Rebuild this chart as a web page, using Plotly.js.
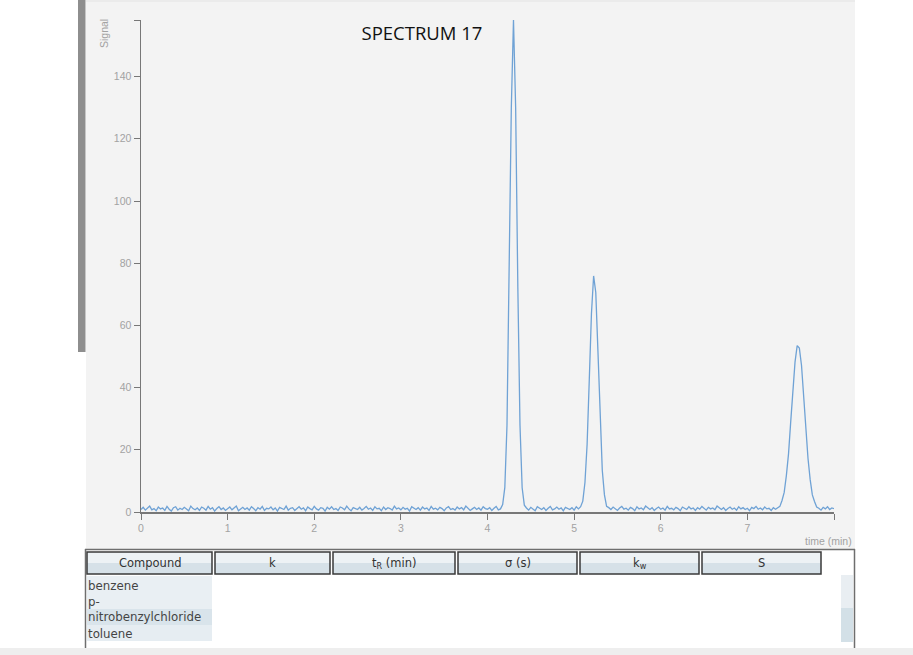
<!DOCTYPE html>
<html>
<head>
<meta charset="utf-8">
<script src="https://cdn.plot.ly/plotly-3.0.1.min.js"></script>
<style>
  html, body { margin: 0; padding: 0; background: #ffffff; }
  #chart { width: 913px; height: 655px; }
</style>
</head>
<body>
<div id="chart"></div>
<script>
// ---------- data ----------
const chartTitle = 'SPECTRUM 17';
const xTitle = 'time (min)';
const yTitle = 'Signal';
const timeStart = 0;      // min
const timeStep = 0.025;   // min per sample
const xTickVals = [0, 1, 2, 3, 4, 5, 6, 7, 8];
const xTickText = ['0', '1', '2', '3', '4', '5', '6', '7', ''];
const yTickVals = [0, 20, 40, 60, 80, 100, 120, 140];
const yTickText = ['0', '20', '40', '60', '80', '100', '120', '140'];
const signal = [
  // 0 - 167 baseline
  0.8,1.5,0.6,1.2,1.9,0.7,1.1,0.4,1.6,1.0,
  1.3,0.5,1.8,0.9,0.3,1.4,1.7,0.6,1.2,0.8,
  1.5,1.0,0.4,1.9,1.1,0.7,1.3,0.5,1.6,1.2,
  0.6,1.8,0.9,1.4,0.3,1.1,1.7,0.8,1.3,0.5,
  1.0,1.6,0.7,1.2,1.9,0.4,1.0,1.5,0.8,1.3,
  0.6,1.7,1.1,0.4,1.4,0.9,1.8,0.5,1.2,1.0,
  1.6,0.7,1.3,0.3,1.5,1.1,0.8,1.9,0.6,1.2,
  1.4,0.5,1.0,1.7,0.9,1.3,0.4,1.6,1.1,0.7,
  1.8,1.0,0.6,1.4,1.2,0.3,1.5,0.9,1.7,0.8,
  1.1,0.5,1.6,1.3,0.7,1.9,1.0,0.4,1.4,1.2,
  0.8,1.5,0.6,1.1,1.8,0.9,1.3,0.5,1.7,1.0,
  1.2,0.4,1.6,0.8,1.4,1.1,0.6,1.9,1.0,1.3,
  0.7,1.5,0.9,1.2,0.3,1.7,1.1,0.8,1.4,0.6,
  1.6,1.0,1.3,0.5,1.8,0.9,1.2,0.7,1.5,1.1,
  0.4,1.3,1.7,0.8,1.1,0.6,1.6,1.0,1.4,0.7,
  1.9,1.2,0.5,1.0,1.5,0.8,1.3,0.6,1.7,1.1,
  0.9,1.4,0.5,1.2,1.8,0.7,1.0,2.4,
  // 168 - 177 peak 1
  7.9,27.9,73.0,130.1,158.2,130.0,72.6,28.0,7.8,2.2,
  // 178 - 202 baseline
  1.3,0.6,1.5,1.0,0.4,1.7,1.1,0.8,1.4,0.5,
  1.2,1.8,0.7,1.0,1.6,0.9,1.3,0.4,1.5,1.1,
  0.8,1.4,0.6,1.7,1.0,
  // 203 - 215 peak 2
  1.7,3.5,9.5,21.8,42.5,63.8,75.9,70.6,51.6,29.1,13.4,5.5,1.8,
  // 216 - 293 baseline
  1.4,0.8,1.6,1.0,0.5,1.3,1.8,0.9,1.2,0.6,
  1.5,1.1,0.4,1.7,1.0,1.3,0.7,1.9,1.2,0.8,
  1.4,0.5,1.1,1.6,0.9,1.3,0.6,1.8,1.0,1.2,
  0.7,1.5,1.1,0.4,1.6,1.2,0.8,1.7,1.0,1.3,
  0.5,1.4,0.9,1.8,1.1,0.6,1.5,1.0,1.3,0.7,
  1.9,1.2,0.8,1.4,0.5,1.1,1.6,0.9,1.3,0.6,
  1.7,1.0,1.4,0.8,1.2,0.4,1.5,1.1,1.8,0.9,
  1.3,0.7,1.6,1.0,1.2,0.5,1.4,0.9,
  // 294 - 312 peak 3
  1.5,1.8,3.7,6.3,11.7,18.7,28.9,39.3,48.2,53.5,52.7,47.1,36.9,26.8,17.2,10.4,5.5,3.4,1.6,
  // 313 - 320 baseline
  1.2,0.6,1.5,1.0,1.7,0.8,1.3,1.1
];
const tableHeaders = ['Compound', 'k', 't<sub>R</sub> (min)', 'σ (s)', 'k<sub>w</sub>', 'S'];
const compounds = ['benzene', 'p-<br>nitrobenzylchloride', 'toluene'];

// ---------- layout helpers (pixel -> paper fraction) ----------
const W = 913, H = 655;
const px = x => x / W;
const py = y => 1 - y / H;
const yMax = Math.max(...signal);

const axisFont = { family: 'Liberation Sans, Arial, sans-serif', size: 10.5, color: '#a2a2a2' };
const titleAxisFont = { family: 'Liberation Sans, Arial, sans-serif', size: 10.5, color: '#a2a2a2' };
const headerFont = { family: 'DejaVu Sans, Verdana, sans-serif', size: 11.5, color: '#333333' };
const cellFont = { family: 'DejaVu Sans, Verdana, sans-serif', size: 11.8, color: '#444444' };

// table geometry (pixels)
const colLeft = [87, 215, 333, 458, 580, 702];
const colRight = [212, 330, 455, 577, 699, 821];
const headTop = 552, headBottom = 574;
const bodyTop = 578, lineH = 16;

const shapes = [
  // light panel behind the chart
  { type: 'rect', xref: 'paper', yref: 'paper', x0: px(86), x1: px(855), y0: py(549), y1: py(2),
    fillcolor: '#f3f3f3', line: { width: 0 }, layer: 'below' },
  { type: 'rect', xref: 'paper', yref: 'paper', x0: px(86), x1: px(855), y0: py(2), y1: py(0),
    fillcolor: '#ebebeb', line: { width: 0 }, layer: 'below' },
  // left scrollbar thumb
  { type: 'rect', xref: 'paper', yref: 'paper', x0: px(78), x1: px(85.5), y0: py(352), y1: py(0),
    fillcolor: '#8e8e8e', line: { width: 0 }, layer: 'above' },
  // bottom strip
  { type: 'rect', xref: 'paper', yref: 'paper', x0: 0, x1: 1, y0: 0, y1: py(648),
    fillcolor: '#eeeeee', line: { width: 0 }, layer: 'above' },
  // table frame
  { type: 'line', xref: 'paper', yref: 'paper', x0: px(85), x1: px(855), y0: py(549.5), y1: py(549.5),
    line: { color: '#6e6e6e', width: 1.5 }, layer: 'above' },
  { type: 'line', xref: 'paper', yref: 'paper', x0: px(85.5), x1: px(85.5), y0: py(549), y1: py(648),
    line: { color: '#6e6e6e', width: 1.5 }, layer: 'above' },
  { type: 'line', xref: 'paper', yref: 'paper', x0: px(854.5), x1: px(854.5), y0: py(549), y1: py(648),
    line: { color: '#6e6e6e', width: 1.5 }, layer: 'above' },
  // small scroller on the right of the table
  { type: 'rect', xref: 'paper', yref: 'paper', x0: px(841), x1: px(853), y0: py(608), y1: py(575),
    fillcolor: '#e9eef2', line: { width: 0 }, layer: 'above' },
  { type: 'rect', xref: 'paper', yref: 'paper', x0: px(841), x1: px(853), y0: py(642), y1: py(608),
    fillcolor: '#d3e0e7', line: { width: 0 }, layer: 'above' },
  // first-column background
  { type: 'rect', xref: 'paper', yref: 'paper', x0: px(87), x1: px(212), y0: py(609), y1: py(576),
    fillcolor: '#e9eff3', line: { width: 0 }, layer: 'above' },
  { type: 'rect', xref: 'paper', yref: 'paper', x0: px(87), x1: px(212), y0: py(625), y1: py(609),
    fillcolor: '#d9e4eb', line: { width: 0 }, layer: 'above' },
  { type: 'rect', xref: 'paper', yref: 'paper', x0: px(87), x1: px(212), y0: py(641), y1: py(625),
    fillcolor: '#e6edf2', line: { width: 0 }, layer: 'above' }
];

const annotations = [
  { text: yTitle, xref: 'paper', yref: 'paper', x: px(104), y: py(34), xanchor: 'center', yanchor: 'middle',
    textangle: -90, showarrow: false, font: titleAxisFont },
  { text: xTitle, xref: 'paper', yref: 'paper', x: px(854), y: py(541), xanchor: 'right', yanchor: 'middle',
    showarrow: false, font: titleAxisFont }
];

// header cells
tableHeaders.forEach((h, i) => {
  const l = colLeft[i], r = colRight[i];
  const mid = (headTop + headBottom) / 2;
  shapes.push({ type: 'rect', xref: 'paper', yref: 'paper', x0: px(l), x1: px(r), y0: py(mid), y1: py(headTop),
    fillcolor: '#edf2f5', line: { width: 0 }, layer: 'above' });
  shapes.push({ type: 'rect', xref: 'paper', yref: 'paper', x0: px(l), x1: px(r), y0: py(headBottom), y1: py(mid),
    fillcolor: '#d6e1e8', line: { width: 0 }, layer: 'above' });
  shapes.push({ type: 'rect', xref: 'paper', yref: 'paper', x0: px(l), x1: px(r), y0: py(headBottom), y1: py(headTop),
    fillcolor: 'rgba(0,0,0,0)', line: { color: '#3a3a3a', width: 1.5 }, layer: 'above' });
  annotations.push({ text: h, xref: 'paper', yref: 'paper', x: px((l + r) / 2), y: py(mid),
    xanchor: 'center', yanchor: 'middle', showarrow: false, font: headerFont });
});

// compound cells
let lineCount = 0;
compounds.forEach(c => {
  annotations.push({ text: c, xref: 'paper', yref: 'paper', x: px(87), y: py(bodyTop + lineCount * lineH),
    xanchor: 'left', yanchor: 'top', align: 'left', showarrow: false, font: cellFont, borderpad: 0 });
  lineCount += c.split('<br>').length;
});

const traces = [
  {
    type: 'scatter',
    mode: 'lines',
    x0: timeStart,
    dx: timeStep,
    y: signal,
    line: { color: '#6fa2d5', width: 1.3 },
    hoverinfo: 'x+y',
    showlegend: false
  }
];

const layout = {
  width: W,
  height: H,
  margin: { l: 0, r: 0, t: 0, b: 0, pad: 0 },
  paper_bgcolor: '#ffffff',
  plot_bgcolor: 'rgba(0,0,0,0)',
  showlegend: false,
  title: {
    text: chartTitle,
    x: px(422), xanchor: 'center',
    y: py(34), yanchor: 'middle',
    font: { family: 'Open Sans, sans-serif', size: 18.5, color: '#111111' }
  },
  xaxis: {
    domain: [px(141), px(834)],
    range: [0, 8],
    tickmode: 'array',
    tickvals: xTickVals,
    ticktext: xTickText,
    ticks: 'outside',
    ticklen: 6,
    tickwidth: 1,
    tickcolor: '#777777',
    showline: true,
    linecolor: '#777777',
    linewidth: 1.5,
    showgrid: false,
    zeroline: false,
    tickfont: axisFont
  },
  yaxis: {
    domain: [py(512), py(20)],
    range: [0, yMax],
    tickmode: 'array',
    tickvals: yTickVals.concat([yMax]),
    ticktext: yTickText.concat(['']),
    ticks: 'outside',
    ticklen: 6,
    tickwidth: 1,
    tickcolor: '#777777',
    showline: true,
    linecolor: '#777777',
    linewidth: 1.5,
    showgrid: false,
    zeroline: false,
    tickfont: axisFont
  },
  shapes: shapes,
  annotations: annotations
};

Plotly.newPlot('chart', traces, layout, { displayModeBar: false, staticPlot: true });
</script>
</body>
</html>
